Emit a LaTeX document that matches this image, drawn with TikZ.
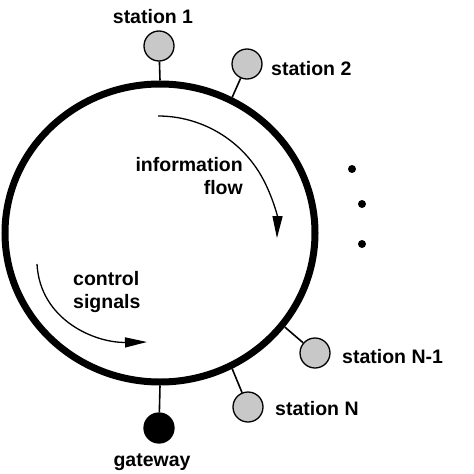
\documentclass[tikz,border=0pt]{standalone}
\usepackage{fontspec}
\setmainfont{Liberation Sans}
\usetikzlibrary{arrows.meta,shapes.geometric}
\begin{document}
\begin{tikzpicture}[x=1pt,y=-1pt,
  lbl/.style={font=\fontsize{19.5}{23}\selectfont\bfseries, inner sep=0pt},
  stn/.style={circle, draw, line width=1.3pt, fill={rgb,255:red,200;green,200;blue,200}, minimum size=30pt, inner sep=0pt},
  gw/.style={circle, draw, line width=1.3pt, fill=black, minimum size=30pt, inner sep=0pt},
  tap/.style={line width=1.6pt},
  flow/.style={line width=1.3pt, -{Triangle[length=22pt,width=10pt]}},
  dotn/.style={circle, fill=black, minimum size=8pt, inner sep=0pt}]
\useasboundingbox (0,0) rectangle (474,474);
\node[ellipse, draw, line width=7pt, minimum width=310pt, minimum height=298pt, inner sep=0pt] (ring) at (160,233) {};
\node[stn] (s1) at (159,46) {};
\node[stn] (s2) at (247,64) {};
\node[stn] (sn1) at (315,353) {};
\node[stn] (sn) at (248,407) {};
\node[gw] (g) at (159,428) {};
\draw[tap] (ring.90) -- (s1);
\draw[tap] (ring.62) -- (s2);
\draw[tap] (ring.-37) -- (sn1);
\draw[tap] (ring.-62) -- (sn);
\draw[tap] (ring.-90) -- (g);
\node[lbl] (l1) at (153,17) {station 1};
\node[lbl, anchor=west] (l2) at (271,69) {station 2};
\node[lbl, anchor=west] (ln1) at (342,357) {station N-1};
\node[lbl, anchor=west] (ln) at (275,409) {station N};
\node[lbl] (lg) at (152,462) {gateway};
\node[lbl, align=right, anchor=east] (tinfo) at (243,176) {information\\flow};
\node[lbl, align=left, anchor=west] (tctrl) at (73,292) {control\\signals};
\coordinate (a1s) at (158,116);
\coordinate (a1e) at (277,237);
\draw[flow] (a1s) arc[start angle=-90, end angle=1.5, radius=119];
\coordinate (a2s) at (37,264);
\coordinate (a2e) at (147,342);
\draw[flow] (a2s) .. controls (40,320) and (95,343) .. (a2e);
\node[dotn] (d1) at (352,169) {};
\node[dotn] (d2) at (362,204) {};
\node[dotn] (d3) at (362,244) {};
\end{tikzpicture}
\end{document}
